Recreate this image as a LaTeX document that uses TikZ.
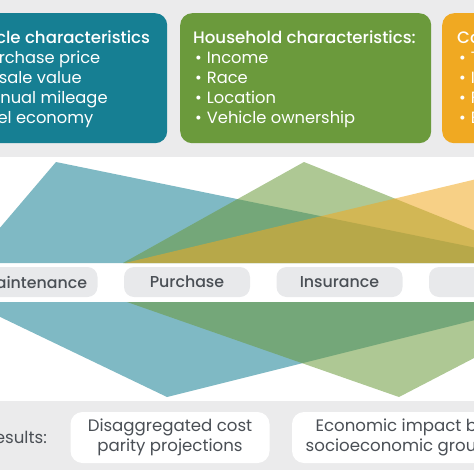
\documentclass[tikz,border=0pt]{standalone}
\usepackage{fontspec}
\setmainfont{Poppins}[BoldFont={Poppins SemiBold}]
\newfontfamily\medfont{Poppins Medium}
\usepackage{tikz}

\definecolor{vehteal}{HTML}{167F93}
\definecolor{hhgreen}{HTML}{6B9A3C}
\definecolor{costorange}{HTML}{F0A922}
\definecolor{bandgray}{HTML}{EBEBEC}
\definecolor{pillgray}{HTML}{E8E9EB}
\definecolor{labelgray}{HTML}{4A4F55}

\begin{document}
\begin{tikzpicture}[x=1pt, y=-1pt,
  factorbox/.style={rounded corners=12pt, fill=#1, anchor=north west, inner sep=0pt},
  boxtext/.style={white, anchor=base west, inner sep=0pt, font=\fontsize{16.3}{20}\selectfont},
  boxtitle/.style={boxtext, font=\fontsize{16.6}{20}\selectfont\medfont},
  costpill/.style={rounded corners=10pt, fill=pillgray, minimum width=126pt, minimum height=30pt,
    inner sep=0pt, text=labelgray, font=\fontsize{15.8}{20}\selectfont\medfont},
  resultbox/.style={rounded corners=12pt, fill=white, minimum height=51pt, inner sep=0pt,
    text=labelgray, align=center, font=\fontsize{16.6}{20}\selectfont},
  flow/.style={fill=#1, fill opacity=0.55}]
  \useasboundingbox (0,0) rectangle (474,474);
  \clip (0,0) rectangle (474,474);
  % grey bands behind the boxes
  \fill[bandgray] (0,0) rectangle (474,157);
  \fill[bandgray] (0,401) rectangle (474,470);
  % input boxes
  \node[factorbox=vehteal, minimum width=218pt, minimum height=130pt] (vehbox) at (-51,13) {};
  \node[factorbox=hhgreen, minimum width=251pt, minimum height=130pt] (hhbox) at (180,13) {};
  \node[factorbox=costorange, minimum width=251pt, minimum height=130pt] (costbox) at (442,13) {};
  \node[boxtitle] (vehtitle) at (-41,43) {Vehicle characteristics};
  \node[boxtitle] (hhtitle) at (193,43) {Household characteristics:};
  \node[boxtitle] (costtitle) at (457,43) {Cost factors:};
  \foreach \txt [count=\i] in {Purchase price, Resale value, Annual mileage, Fuel economy}
    \node[boxtext] (veh\i) at (-33,43+20*\i) {•\hspace{5pt}\txt};
  \foreach \txt [count=\i] in {Income, Race, Location, Vehicle ownership}
    \node[boxtext] (hh\i) at (195,43+20*\i) {•\hspace{5pt}\txt};
  \foreach \txt [count=\i] in {Tax credits, Insurance rates, Fuel prices, Electricity prices}
    \node[boxtext] (cost\i) at (459,43+20*\i) {•\hspace{5pt}\txt};
  % flows from the inputs to the cost components
  \fill[flow=vehteal] (56,162) -- (-30,263) -- (550,263) -- cycle;
  \fill[flow=hhgreen] (304,162) -- (123,263) -- (555,263) -- cycle;
  \fill[flow=costorange] (548,162) -- (125,263) -- (600,263) -- cycle;
  % cost components
  \foreach \lbl [count=\i] in {Maintenance, Purchase, Insurance, Fuel}
    \node[costpill] (pill\i) at (-118+152.5*\i,282) {\lbl};
  % flows from the cost components to the results
  \fill[flow=vehteal] (-31,302) -- (547,302) -- (167,397) -- cycle;
  \fill[flow=hhgreen] (127,302) -- (582,302) -- (399,397) -- cycle;
  % results
  \node[anchor=east, text=labelgray, inner sep=0pt, font=\fontsize{16.6}{20}\selectfont] (reslabel) at (47,437) {Results:};
  \node[resultbox, minimum width=199pt] (parity) at (170,437.5) {Disaggregated cost\\parity projections};
  \node[resultbox, minimum width=218pt] (impact) at (401,437.5) {Economic impact by\\socioeconomic groups};
\end{tikzpicture}
\end{document}
